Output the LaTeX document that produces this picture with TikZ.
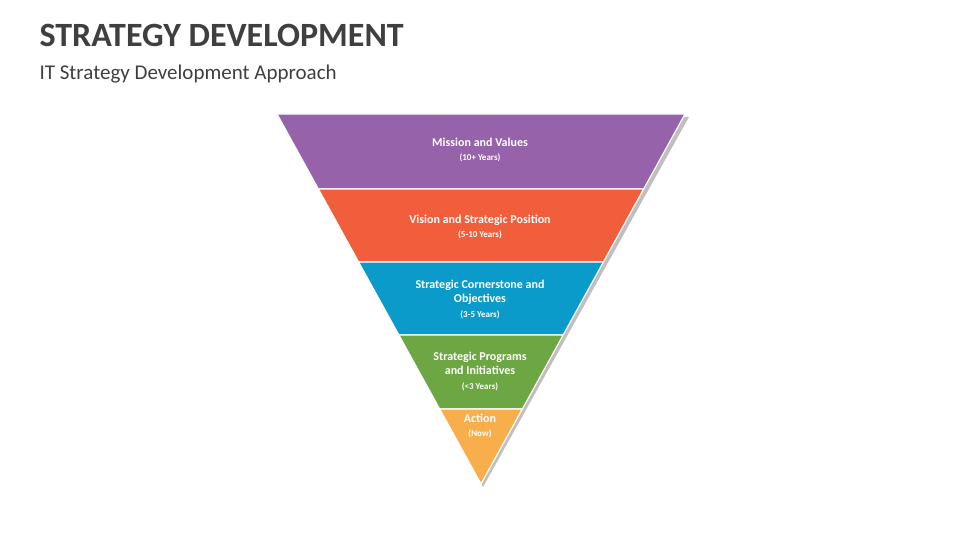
\documentclass[tikz,border=0pt]{standalone}
\usepackage{fontspec}
\setmainfont{Carlito}
\definecolor{cpur}{HTML}{9662A9}
\definecolor{cred}{HTML}{F15E3C}
\definecolor{cblu}{HTML}{0A9BCB}
\definecolor{cgrn}{HTML}{6CA743}
\definecolor{cora}{HTML}{F9AE4C}
\definecolor{ctitle}{HTML}{3F3F3F}
\begin{document}
\begin{tikzpicture}[x=1pt,y=-1pt,
  band/.style={draw=white,line width=1.2pt},
  lbl/.style={text=white,font=\bfseries\fontsize{12}{14.5}\selectfont,align=center}]
\useasboundingbox (0,0) rectangle (960,540);
\def\hw#1{(0.55135*(484-#1))}
\fill[black!25] (280,117) -- (689,117) -- (483,487) -- cycle;
\foreach \ya/\yb/\c in {114/189/cpur,189/262/cred,262/335/cblu,335/409/cgrn,409/484/cora}{
  \filldraw[band,fill=\c] ({481-\hw{\ya}},\ya) -- ({481+\hw{\ya}},\ya) -- ({481+\hw{\yb}},\yb) -- ({481-\hw{\yb}},\yb) -- cycle;}
\node[anchor=west,text=ctitle,font=\bfseries\fontsize{34}{40}\selectfont] (t) at (36,35) {STRATEGY DEVELOPMENT};
\node[anchor=west,text=ctitle,font=\fontsize{21}{25}\selectfont] (s) at (36,74) {IT Strategy Development Approach};
\node[lbl] (a) at (480,150) {Mission and Values\\{\fontsize{9}{12}\selectfont (10+ Years)}};
\node[lbl] (b) at (480,227) {Vision and Strategic Position\\{\fontsize{9}{12}\selectfont (5-10 Years)}};
\node[lbl] (c) at (480,299) {Strategic Cornerstone and\\Objectives\\{\fontsize{9}{12}\selectfont (3-5 Years)}};
\node[lbl] (d) at (480,371) {Strategic Programs\\and Initiatives\\{\fontsize{9}{12}\selectfont (<3 Years)}};
\node[lbl] (e) at (480,426) {Action\\{\fontsize{9}{12}\selectfont (Now)}};
\end{tikzpicture}
\end{document}
